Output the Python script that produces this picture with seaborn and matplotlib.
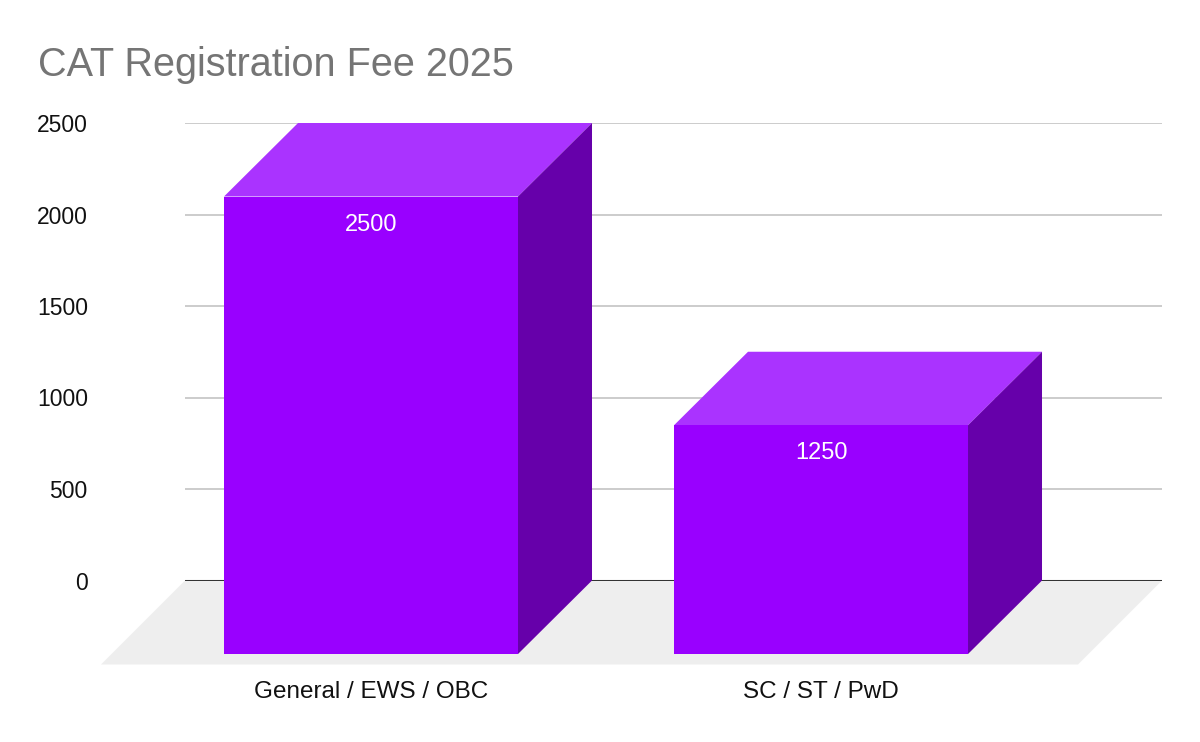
import matplotlib
matplotlib.use("Agg")
import matplotlib.pyplot as plt
from matplotlib.patches import Polygon
import seaborn as sns
import pandas as pd

categories = ["General / EWS / OBC", "SC / ST / PwD"]
fees = [2500, 1250]
yticks = [0, 500, 1000, 1500, 2000, 2500]
title = "CAT Registration Fee 2025"

FRONT = "#9900FF"
TOP = "#AA33FF"
SIDE = "#6600AA"
FLOOR = "#EEEEEE"

sns.set_theme(style="white")
plt.rcParams["font.family"] = ["Liberation Sans", "DejaVu Sans"]

fig = plt.figure(figsize=(12, 7.42), dpi=100)
ax = fig.add_axes([185 / 1200, 1 - 580.5 / 742, 977 / 1200, 457.5 / 742])

df = pd.DataFrame({"cat": categories, "fee": fees})
sns.barplot(data=df, x="cat", y="fee", color=FRONT, width=0.6533, ax=ax,
            saturation=1, zorder=5)
bars = list(ax.patches)

ax.set_xlim(-0.5778, 1.5933)
ax.set_ylim(0, 2500)
ax.set_yticks(yticks)
ax.set_yticklabels([str(t) for t in yticks])
ax.set_xticks([])
ax.set_xlabel("")
ax.set_ylabel("")
for s in ax.spines.values():
    s.set_visible(False)
ax.tick_params(axis="y", length=0, pad=70, labelsize=16.5, labelcolor="#111111")

# gridlines
for t in yticks[1:]:
    ax.axhline(t, color="#CCCCCC", lw=1.4, zorder=1)
ax.axhline(0, color="#333333", lw=2.2, zorder=3)

# pixel -> data conversion
fig.canvas.draw()
p0 = ax.transData.transform((0, 0))
p1 = ax.transData.transform((1, 1))
ux = p1[0] - p0[0]
uy = p1[1] - p0[1]
bdx, bdy = -74 / ux, -73.5 / uy    # bar depth offset
fdx, fdy = -84 / ux, -84 / uy      # floor depth offset

x0, x1 = ax.get_xlim()
floor = Polygon([(x0, 0), (x1, 0), (x1 + fdx, fdy), (x0 + fdx, fdy)],
                closed=True, facecolor=FLOOR, edgecolor="none",
                clip_on=False, zorder=2)
ax.add_patch(floor)

for i, p in enumerate(bars):
    bx = p.get_x()
    bw = p.get_width()
    h = p.get_height()
    # top face
    top = Polygon([(bx + bdx, h + bdy), (bx + bw + bdx, h + bdy), (bx + bw, h), (bx, h)],
                  closed=True, facecolor=TOP, edgecolor="none", clip_on=False, zorder=4)
    ax.add_patch(top)
    # side face
    side = Polygon([(bx + bw + bdx, h + bdy), (bx + bw, h), (bx + bw, 0), (bx + bw + bdx, bdy)],
                   closed=True, facecolor=SIDE, edgecolor="none", clip_on=False, zorder=4)
    ax.add_patch(side)
    # front face: shifted bar
    p.set_x(bx + bdx)
    p.set_y(bdy)
    p.set_height(h)
    p.set_clip_on(False)
    p.set_edgecolor("none")
    p.set_zorder(6)
    cx = bx + bw / 2 + bdx
    ax.annotate(str(fees[i]), (cx, h + bdy), xytext=(0, -28 * 0.72), textcoords="offset points",
                ha="center", va="center", color="white", fontsize=17, zorder=7,
                annotation_clip=False)
    ax.annotate(categories[i], (cx, 0), xytext=(0, -111.5 * 0.72), textcoords="offset points",
                ha="center", va="center", color="#111111", fontsize=17.5, zorder=7,
                annotation_clip=False)

fig.text(38 / 1200, 1 - 75.5 / 742, title, ha="left", va="baseline",
         fontsize=28.5, color="#757575")

fig.savefig("out.png", dpi=100, facecolor="white")
